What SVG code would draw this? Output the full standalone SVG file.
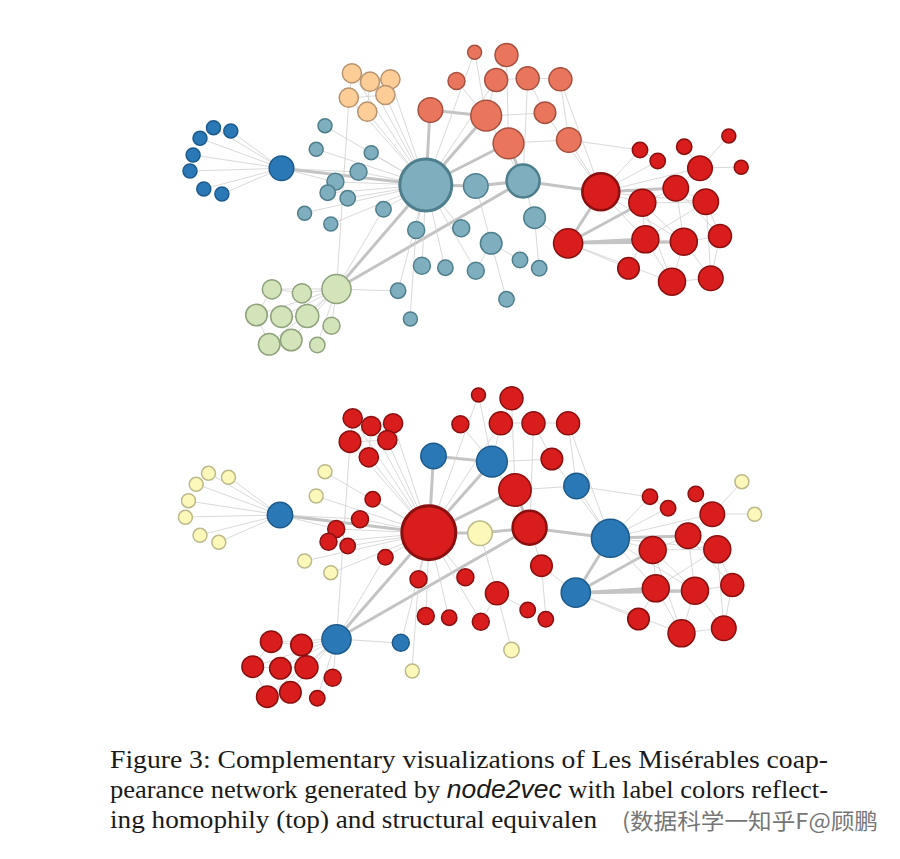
<svg xmlns="http://www.w3.org/2000/svg" width="900" height="859" viewBox="0 0 900 859">
<style>
.e{stroke:#cfcfcf;stroke-width:0.8;fill:none}
.t{stroke:#c4c4c4;stroke-width:3;fill:none}
.n{stroke-width:1.5}
.b{fill:#2b78b6;stroke:#1d5a8c}
.o{fill:#fdcd97;stroke:#b89470}
.s{fill:#e9765c;stroke:#a65040}
.c{fill:#7fafbe;stroke:#4f7f8d}
.g{fill:#d3e4bb;stroke:#8ea27c}
.r{fill:#d91c1c;stroke:#8a1010}
.y{fill:#fcf8ba;stroke:#bdb98a}
.cap{font-family:'Liberation Serif','Times New Roman',serif;font-size:25px;fill:#1a1a1a}
</style>
<rect width="900" height="859" fill="#fff"/>
<g id="connectors">
<path class="t" d="M426,185L281.5,168.3M426,185L476,186M476,186L523,181M523,181L601,192M426,185L336.5,289M426,185L486,116M426,185L508.5,143M601,192L568,243M568,243L645,239M568,243L642,203M601,192L676,188M426,185L430,110M523,181L508.5,143M430,110L486,116M568,243L684,242M336.5,289L523,181"/>
<path class="e" d="M281.5,168.3L213.5,127.7M281.5,168.3L230.8,131M281.5,168.3L200,138.3M281.5,168.3L193.1,155M281.5,168.3L190,171M281.5,168.3L203.8,189M281.5,168.3L221.9,194M281.5,168.3L335,182M281.5,168.3L358,172
M426,185L352,73M426,185L370,82M426,185L390,79M426,185L349,98M426,185L385,95M426,185L367,112M352,73L370,82M370,82L390,79M349,98L385,95M352,73L349,98M370,82L367,112M390,79L385,95M349,98L336.5,289
M426,185L325,126M426,185L316,149M426,185L371,153M426,185L358,172M426,185L335,182M426,185L328,193M426,185L348,198M426,185L304.6,213M426,185L331,224M426,185L383.5,209M426,185L416,230M426,185L461,228M426,185L422,266M426,185L445,268M426,185L476,271M426,185L398,291M416,230L410,319
M476,186L491,243M491,243L476,271M491,243L506.5,299M491,243L520,260M534.6,218L539,268M523,181L534.6,218M534.6,218L568,243
M474.6,52L486,116M506.5,55L496,80M456.5,81L486,116M496,80L527.7,78M527.7,78L560,79M496,80L486,116M527.7,78L545,113M560,79L568.8,140M486,116L545,113M508.5,143L568.8,140M545,113L601,192M568.8,140L601,192M486,116L523,181M496,80L426,185M527.7,78L523,181M560,79L601,192M474.6,52L426,185M506.5,55L508.5,143
M601,192L640,150M601,192L657.7,161M601,192L700,168M601,192L642,203M601,192L645,239M601,192L684,242M601,192L706,202M642,203L676,188M642,203L706,202M642,203L645,239M642,203L684,242M676,188L700,168M676,188L706,202M676,188L720,236M645,239L684,242M684,242L720,236M645,239L628,268M645,239L672,282M684,242L672,282M684,242L711,278M720,236L711,278M672,282L711,278M568,243L628,268M568,243L672,282M700,168L728.8,136M700,168L741,167M684,147L700,168M640,150L657.7,161M706,202L720,236M706,202L711,278M642,203L672,282M706,202L645,239M676,188L684,242M568.8,140L640,150
M336.5,289L272,289M336.5,289L302,293M336.5,289L256.5,315M336.5,289L281.5,317M336.5,289L307,316M336.5,289L331.5,326M336.5,289L269,344M336.5,289L291,340M336.5,289L317,345M272,289L302,293M256.5,315L281.5,317M281.5,317L307,316M269,344L291,340M256.5,315L269,344M302,293L307,316M272,289L256.5,315M336.5,289L398,291M336.5,289L383.5,209"/>
<path class="t" d="M429,533L280,515M429,533L480,533M480,533L530,528M530,528L610,538M429,533L336.5,639M429,533L492,462M429,533L515,490M610,538L576,593M576,593L656,588M576,593L653,550M610,538L688,536M429,533L433.5,456M530,528L515,490M433.5,456L492,462M576,593L695,591M336.5,639L530,528"/>
<path class="e" d="M280,515L208.5,473M280,515L228.5,477M280,515L196,484M280,515L188.5,501M280,515L185.4,517M280,515L200,535M280,515L219,542M280,515L336,529M280,515L360,519
M429,533L352.7,418M429,533L371,426M429,533L393,423M429,533L350,442M429,533L387,440M429,533L369,457M352.7,418L371,426M371,426L393,423M350,442L387,440M352.7,418L350,442M371,426L369,457M393,423L387,440M350,442L336.5,639
M429,533L325,472M429,533L316,496M429,533L373,499M429,533L360,519M429,533L336,529M429,533L328.5,542M429,533L348,546M429,533L304.6,561M429,533L331,573M429,533L385,557M429,533L418.5,579M429,533L465,577M429,533L426,616M429,533L449,618M429,533L481,622M429,533L401,643M418.5,579L412,671
M480,533L497,593M497,593L481,622M497,593L511.5,650M497,593L528,610M541.5,566L546,619M530,528L541.5,566M541.5,566L576,593
M478.5,395L492,462M511.5,398L501,423M460,424L492,462M501,423L533.5,423M533.5,423L568,423M501,423L492,462M533.5,423L552,459M568,423L576.5,486M492,462L552,459M515,490L576.5,486M552,459L610,538M576.5,486L610,538M492,462L530,528M501,423L429,533M533.5,423L530,528M568,423L610,538M478.5,395L429,533M511.5,398L515,490
M610,538L650,497M610,538L668,508M610,538L712,514M610,538L653,550M610,538L656,588M610,538L695,591M610,538L717,549M653,550L688,536M653,550L717,549M653,550L656,588M653,550L695,591M688,536L712,514M688,536L717,549M688,536L732,585M656,588L695,591M695,591L732,585M656,588L638.5,619M656,588L681.5,633M695,591L681.5,633M695,591L724,628M732,585L724,628M681.5,633L724,628M576,593L638.5,619M576,593L681.5,633M712,514L742,482M712,514L754.6,514M696,494L712,514M650,497L668,508M717,549L732,585M717,549L724,628M653,550L681.5,633M717,549L656,588M688,536L695,591M576.5,486L650,497
M336.5,639L271,642M336.5,639L301.5,645M336.5,639L253,667M336.5,639L280,668M336.5,639L306.5,667M336.5,639L333,678M336.5,639L267,697M336.5,639L290,692M336.5,639L317,698M271,642L301.5,645M253,667L280,668M280,668L306.5,667M267,697L290,692M253,667L267,697M301.5,645L306.5,667M271,642L253,667M336.5,639L401,643M336.5,639L385,557"/>
</g>
<g id="top-graph" class="n">
<g id="t-blue"><circle class="b" cx="213.5" cy="127.7" r="7"/><circle class="b" cx="230.8" cy="131" r="7"/><circle class="b" cx="200" cy="138.3" r="7"/><circle class="b" cx="193.1" cy="155" r="7"/><circle class="b" cx="190" cy="171" r="7"/><circle class="b" cx="203.8" cy="189" r="7"/><circle class="b" cx="221.9" cy="194" r="7"/><circle class="b" cx="281.5" cy="168.3" r="12.3"/></g>
<g id="t-orange"><circle class="o" cx="351.9" cy="73.3" r="9.6"/><circle class="o" cx="370" cy="81.7" r="9.6"/><circle class="o" cx="390.4" cy="79.3" r="9.6"/><circle class="o" cx="348.8" cy="97.7" r="9.6"/><circle class="o" cx="385.4" cy="95" r="9.6"/><circle class="o" cx="367.3" cy="111.7" r="9.6"/></g>
<g id="t-salmon"><circle class="s" cx="474.6" cy="52.3" r="7"/><circle class="s" cx="506.5" cy="55" r="11.5"/><circle class="s" cx="456.5" cy="81" r="8.5"/><circle class="s" cx="496.2" cy="80" r="11.5"/><circle class="s" cx="527.7" cy="78.3" r="11.5"/><circle class="s" cx="560.4" cy="79.3" r="11.5"/><circle class="s" cx="430.4" cy="110" r="12.3"/><circle class="s" cx="486.2" cy="115.7" r="15.4"/><circle class="s" cx="545" cy="112.7" r="10.8"/><circle class="s" cx="508.5" cy="143.3" r="15.4"/><circle class="s" cx="568.8" cy="140" r="12.3"/></g>
<g id="t-teal"><circle class="c" cx="325" cy="125.7" r="7"/><circle class="c" cx="316.2" cy="149.3" r="7"/><circle class="c" cx="371.2" cy="152.7" r="7"/><circle class="c" cx="358.5" cy="171.7" r="8.5"/><circle class="c" cx="335.4" cy="181.7" r="8.5"/><circle class="c" cx="327.7" cy="192.7" r="7.7"/><circle class="c" cx="347.7" cy="198.3" r="7.7"/><circle class="c" cx="304.6" cy="213.3" r="7"/><circle class="c" cx="330.8" cy="224" r="7"/><circle class="c" cx="383.5" cy="209.3" r="7.7"/><circle class="c" cx="425.8" cy="185" r="26" stroke-width="3"/><circle class="c" cx="475.8" cy="186" r="12.3"/><circle class="c" cx="523.1" cy="181" r="16.5" stroke-width="2.5"/><circle class="c" cx="534.6" cy="217.7" r="10.8"/><circle class="c" cx="416.2" cy="230" r="8.5"/><circle class="c" cx="461.2" cy="228.3" r="8.5"/><circle class="c" cx="491.2" cy="243.3" r="10.8"/><circle class="c" cx="421.9" cy="265.7" r="8.5"/><circle class="c" cx="445.4" cy="267.7" r="7.7"/><circle class="c" cx="475.8" cy="270.7" r="8.5"/><circle class="c" cx="520" cy="260" r="7.7"/><circle class="c" cx="539.2" cy="268.3" r="7.7"/><circle class="c" cx="398.1" cy="290.7" r="7.7"/><circle class="c" cx="506.5" cy="299.3" r="7.7"/><circle class="c" cx="410.4" cy="319" r="7"/></g>
<g id="t-green"><circle class="g" cx="336.5" cy="289" r="14.6"/><circle class="g" cx="271.9" cy="289.3" r="9.6"/><circle class="g" cx="301.9" cy="293.3" r="9.6"/><circle class="g" cx="256.5" cy="315" r="10.8"/><circle class="g" cx="281.5" cy="316.7" r="10.8"/><circle class="g" cx="307.3" cy="316" r="11.5"/><circle class="g" cx="331.5" cy="325.7" r="8.5"/><circle class="g" cx="269.2" cy="344.3" r="10.8"/><circle class="g" cx="291.2" cy="340" r="10.8"/><circle class="g" cx="317.3" cy="345" r="7.7"/></g>
<g id="t-red"><circle class="r" cx="728.8" cy="136" r="7"/><circle class="r" cx="640" cy="150" r="7.7"/><circle class="r" cx="684.2" cy="146.7" r="7.7"/><circle class="r" cx="657.7" cy="161" r="7.7"/><circle class="r" cx="700" cy="168.3" r="12.3"/><circle class="r" cx="741.2" cy="167.3" r="7"/><circle class="r" cx="600.8" cy="191.7" r="18.5" stroke-width="2.5"/><circle class="r" cx="675.8" cy="188.3" r="12.7"/><circle class="r" cx="642.3" cy="202.7" r="13.5"/><circle class="r" cx="705.8" cy="201.7" r="12.7"/><circle class="r" cx="568.1" cy="243.3" r="14.6"/><circle class="r" cx="645.4" cy="239.3" r="13.5"/><circle class="r" cx="683.8" cy="241.7" r="13.5"/><circle class="r" cx="720" cy="236" r="11.5"/><circle class="r" cx="628.5" cy="268.3" r="10.8"/><circle class="r" cx="672" cy="281.7" r="13.5"/><circle class="r" cx="710.8" cy="278.3" r="12.3"/></g>
</g>
<g id="bottom-graph" class="n">
<g id="b-yellow"><circle class="y" cx="208.5" cy="473.3" r="7"/><circle class="y" cx="228.5" cy="477.3" r="7"/><circle class="y" cx="196.2" cy="484.3" r="7"/><circle class="y" cx="188.5" cy="500.7" r="7"/><circle class="y" cx="185.4" cy="517.3" r="7"/><circle class="y" cx="200" cy="535.3" r="7"/><circle class="y" cx="218.8" cy="542.3" r="7"/><circle class="y" cx="325" cy="471.7" r="7"/><circle class="y" cx="316.2" cy="496" r="7"/><circle class="y" cx="304.6" cy="561" r="7"/><circle class="y" cx="330.8" cy="572.7" r="7"/><circle class="y" cx="480" cy="533.3" r="12.3"/><circle class="y" cx="511.5" cy="650" r="7.7"/><circle class="y" cx="412.3" cy="671" r="7"/><circle class="y" cx="741.9" cy="481.7" r="7"/><circle class="y" cx="754.6" cy="514.3" r="7"/></g>
<g id="b-blue"><circle class="b" cx="280" cy="515" r="12.7"/><circle class="b" cx="433.5" cy="456" r="12.7"/><circle class="b" cx="491.9" cy="461.7" r="15.4"/><circle class="b" cx="576.5" cy="486" r="12.7"/><circle class="b" cx="400.8" cy="642.7" r="8.5"/><circle class="b" cx="336.5" cy="639.3" r="14.6"/><circle class="b" cx="610.4" cy="538.3" r="19"/><circle class="b" cx="575.8" cy="592.7" r="14.6"/></g>
<g id="b-red"><circle class="r" cx="352.7" cy="418.3" r="9.6"/><circle class="r" cx="371.2" cy="426" r="9.6"/><circle class="r" cx="393.1" cy="423.3" r="9.6"/><circle class="r" cx="350" cy="441.7" r="10.8"/><circle class="r" cx="387.3" cy="440" r="9.6"/><circle class="r" cx="368.8" cy="457.3" r="9.6"/><circle class="r" cx="478.5" cy="395" r="7"/><circle class="r" cx="511.5" cy="398.3" r="11.5"/><circle class="r" cx="460.4" cy="424.3" r="8.5"/><circle class="r" cx="500.8" cy="423.3" r="11.5"/><circle class="r" cx="533.5" cy="423.3" r="11.5"/><circle class="r" cx="568.1" cy="423.3" r="11.5"/><circle class="r" cx="551.9" cy="459" r="10.8"/><circle class="r" cx="515" cy="490" r="16.2"/><circle class="r" cx="372.7" cy="499.3" r="7.7"/><circle class="r" cx="360" cy="519.3" r="8.5"/><circle class="r" cx="336.2" cy="529" r="8.5"/><circle class="r" cx="328.5" cy="541.7" r="8.5"/><circle class="r" cx="347.7" cy="546" r="7.7"/><circle class="r" cx="385.4" cy="557.3" r="7.7"/><circle class="r" cx="428.8" cy="532.7" r="27" stroke-width="3"/><circle class="r" cx="529.6" cy="527.7" r="17" stroke-width="2.5"/><circle class="r" cx="541.5" cy="565.7" r="10.8"/><circle class="r" cx="418.5" cy="579.3" r="8.5"/><circle class="r" cx="465.4" cy="577.3" r="8.5"/><circle class="r" cx="496.9" cy="593.3" r="11.5"/><circle class="r" cx="425.8" cy="616" r="8.5"/><circle class="r" cx="449.2" cy="617.7" r="7.7"/><circle class="r" cx="480.8" cy="621.7" r="8.5"/><circle class="r" cx="527.7" cy="610" r="7.7"/><circle class="r" cx="545.8" cy="619.3" r="7.7"/><circle class="r" cx="271.2" cy="641.7" r="10.8"/><circle class="r" cx="301.5" cy="645" r="10.8"/><circle class="r" cx="252.7" cy="666.7" r="10.8"/><circle class="r" cx="280.4" cy="668.3" r="10.8"/><circle class="r" cx="306.5" cy="667.3" r="11.5"/><circle class="r" cx="332.7" cy="677.7" r="8.5"/><circle class="r" cx="267.3" cy="696.7" r="10.8"/><circle class="r" cx="290.4" cy="692.3" r="10.8"/><circle class="r" cx="317.3" cy="698.3" r="7.7"/><circle class="r" cx="650" cy="496.7" r="7.7"/><circle class="r" cx="695.8" cy="494" r="7.7"/><circle class="r" cx="668.1" cy="508.3" r="7.7"/><circle class="r" cx="712.3" cy="514.3" r="12.3"/><circle class="r" cx="688.1" cy="535.7" r="12.7"/><circle class="r" cx="652.7" cy="550" r="13.5"/><circle class="r" cx="717.3" cy="549.3" r="13.5"/><circle class="r" cx="655.8" cy="588.3" r="13.5"/><circle class="r" cx="695" cy="590.7" r="13.5"/><circle class="r" cx="732.3" cy="585" r="11.5"/><circle class="r" cx="638.5" cy="619" r="10.8"/><circle class="r" cx="681.5" cy="633.3" r="13.5"/><circle class="r" cx="723.8" cy="628.3" r="12.3"/></g>
</g>
<g id="caption">
<text class="cap" x="110" y="768" textLength="718" lengthAdjust="spacingAndGlyphs">Figure 3: Complementary visualizations of Les Misérables coap-</text>
<text class="cap" x="110" y="798" textLength="718" lengthAdjust="spacingAndGlyphs">pearance network generated by <tspan font-family="'Liberation Sans',sans-serif" font-style="italic">node2vec</tspan> with label colors reflect-</text>
<text class="cap" x="110" y="828" textLength="487" lengthAdjust="spacingAndGlyphs">ing homophily (top) and structural equivalen</text>
<text x="622" y="829" font-family="'Noto Sans CJK SC',sans-serif" font-size="22" fill="#555" opacity="0.8" textLength="256" lengthAdjust="spacingAndGlyphs">(数据科学一知乎F@顾鹏</text>
</g>
</svg>
